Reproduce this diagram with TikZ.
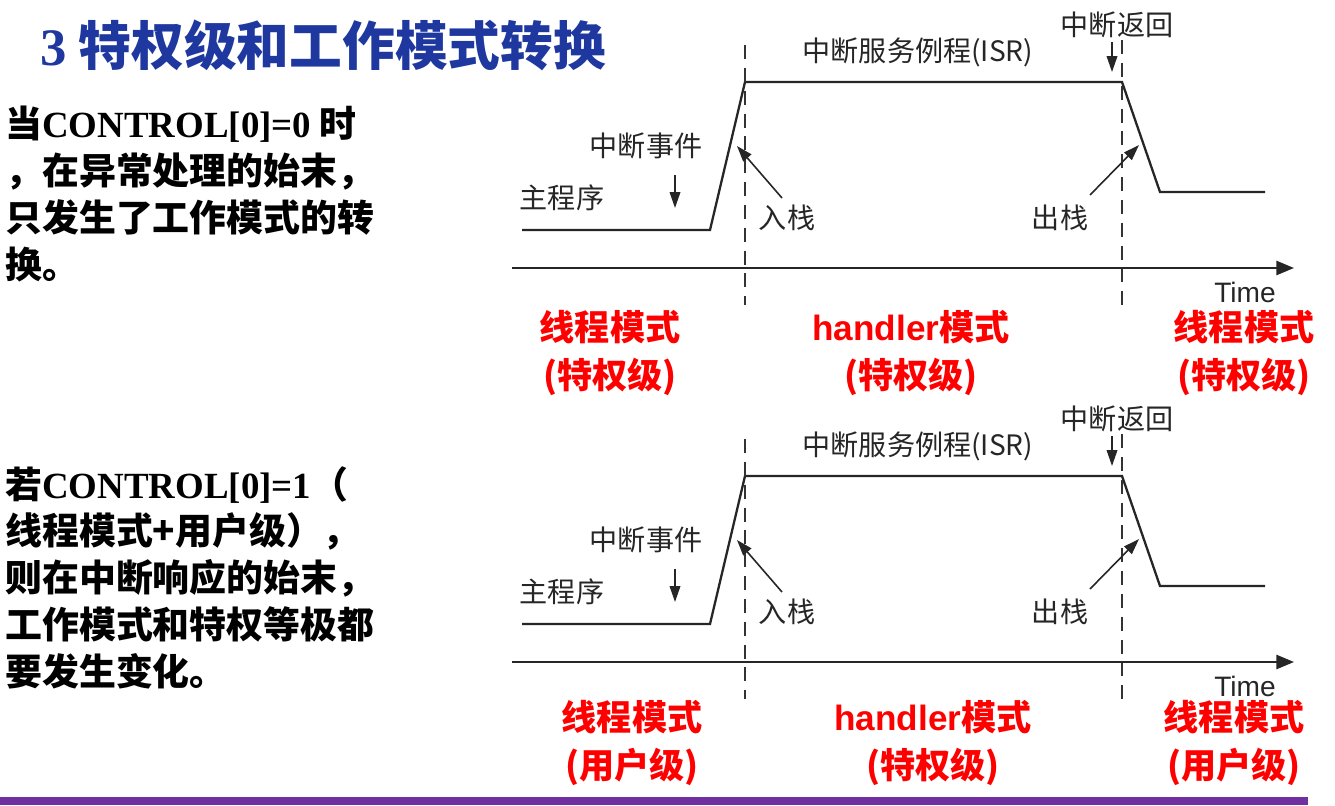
\documentclass[tikz,border=0pt]{standalone}
\usepackage{fontspec}
\setmainfont{Liberation Serif}
\newfontfamily\cjk{Noto Sans CJK SC}
\newfontfamily\lsans{Liberation Sans}
\newfontfamily\lserif{Liberation Serif}
\usetikzlibrary{arrows.meta}
\definecolor{titleblue}{RGB}{31,56,160}
\definecolor{purp}{RGB}{112,48,160}
\begin{document}
\begin{tikzpicture}[x=0.02cm,y=-0.02cm,
  sig/.style={line width=1.3pt,black!85},
  dsh/.style={line width=1pt,dash pattern=on 8pt off 5pt,black!80},
  axis/.style={line width=1.3pt,black!85,-{Triangle[length=10pt,width=8pt]}},
  pt/.style={line width=0.9pt,black!85,-{Triangle[length=9pt,width=6pt]}},
  lbl/.style={font=\cjk\fontsize{16}{18}\selectfont,text=black!85,inner sep=0pt},
  red/.style={font=\cjk\bfseries\fontsize{20}{27}\selectfont,text=red,align=center,inner sep=0pt},
  lt/.style={font=\cjk\bfseries\fontsize{21}{26.6}\selectfont,anchor=north west,align=left,inner sep=0pt}]
\useasboundingbox (0,0) rectangle (1335,805);
\fill[white] (0,0) rectangle (1335,805);
\node[anchor=west,text=titleblue,font=\cjk\bfseries\fontsize{30}{32}\selectfont,inner sep=0pt] (title) at (40,45) {{\lserif\bfseries 3} 特权级和工作模式转换};
\node[lt] (t1) at (5,106) {当{\lserif\bfseries CONTROL[0]=0} 时\\，在异常处理的始末，\\只发生了工作模式的转\\换。};
\node[lt] (t2) at (5,466) {若{\lserif\bfseries CONTROL[0]=1}（\\线程模式+用户级），\\则在中断响应的始末，\\工作模式和特权等极都\\要发生变化。};
\foreach \dy/\la/\lb/\lc/\xa/\xb/\xc/\yl in {0/特权级/特权级/特权级/610/911/1244/353, 394/用户级/特权级/用户级/632/933/1234/349} {
  \begin{scope}[yshift=-\dy*0.02cm]
  \coordinate (s0) at (522,230); \coordinate (s1) at (710,230);
  \coordinate (s2) at (745,82); \coordinate (s3) at (1122,82);
  \coordinate (s4) at (1160,192); \coordinate (s5) at (1265,192);
  \draw[sig] (s0)--(s1)--(s2)--(s3)--(s4)--(s5);
  \coordinate (d1a) at (745,45); \coordinate (d1b) at (745,305);
  \coordinate (d2a) at (1122,40); \coordinate (d2b) at (1122,305);
  \draw[dsh] (d1a)--(d1b); \draw[dsh] (d2a)--(d2b);
  \coordinate (ax0) at (512,268); \coordinate (ax1) at (1294,268);
  \draw[axis] (ax0)--(ax1);
  \node[lbl,font=\lsans\fontsize{16}{18}\selectfont] (time) at (1245,292) {Time};
  \node[lbl] (isr) at (918,52) {中断服务例程(ISR)};
  \node[lbl] (ret) at (1117,25) {中断返回};
  \coordinate (r0) at (1112,42); \coordinate (r1) at (1112,72);
  \draw[pt] (r0)--(r1);
  \node[lbl] (evt) at (646,146) {中断事件};
  \coordinate (e0) at (675,175); \coordinate (e1) at (675,208);
  \draw[pt] (e0)--(e1);
  \node[lbl] (main) at (562,198) {主程序};
  \node[lbl] (in) at (787,218) {入栈};
  \coordinate (i0) at (782,198); \coordinate (i1) at (737,146);
  \draw[pt] (i0)--(i1);
  \node[lbl] (out) at (1060,218) {出栈};
  \coordinate (o0) at (1090,195); \coordinate (o1) at (1139,145);
  \draw[pt] (o0)--(o1);
  \node[red] (m1) at (\xa,\yl) {线程模式\\(\la)};
  \node[red] (m2) at (\xb,\yl) {{\lsans\bfseries handler}模式\\(\lb)};
  \node[red] (m3) at (\xc,\yl) {线程模式\\(\lc)};
  \end{scope}
}
\coordinate (p0) at (0,801); \coordinate (p1) at (1308,801);
\draw[purp,line width=5pt] (p0)--(p1);
\end{tikzpicture}
\end{document}
